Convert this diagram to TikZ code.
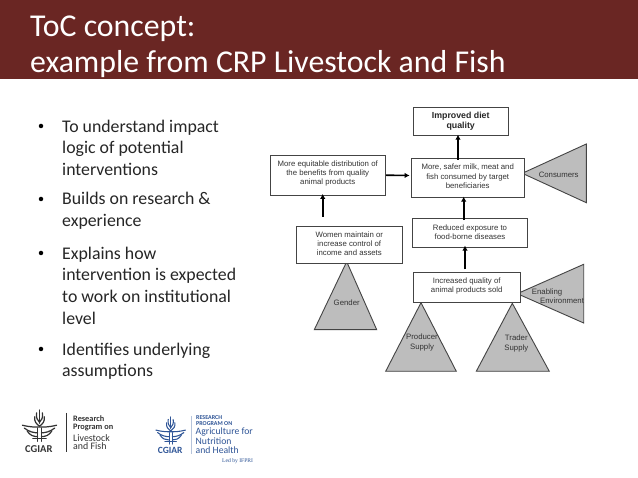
\documentclass[tikz,border=0pt]{standalone}
\usepackage{fontspec}
\setmainfont{Carlito}
\newfontfamily\boxfont{Liberation Sans}
\newfontfamily\ledfont{Liberation Serif}
\definecolor{band}{HTML}{6A2623}
\definecolor{boxline}{HTML}{444444}
\definecolor{boxtext}{HTML}{333333}
\definecolor{tri}{HTML}{BDBDBD}
\definecolor{bluelogo}{HTML}{2F5597}
\definecolor{greylogo}{HTML}{333333}
\usetikzlibrary{arrows.meta,positioning}
\tikzset{
  x=1pt,y=-1pt,
  stepbox/.style={draw=boxline,line width=0.9pt,fill=white,inner sep=0pt,outer sep=0pt,anchor=north west},
  boxlabel/.style={font=\boxfont\fontsize{7.8}{9.1}\selectfont,text=boxtext,align=center,inner sep=0pt},
  trilabel/.style={boxlabel,anchor=center},
  tristyle/.style={draw=boxline,line width=0.9pt,fill=tri,line join=miter},
  link/.style={draw=black,line width=1.6pt,-{Latex[length=5pt,width=5.5pt]}},
  titletext/.style={font=\fontsize{31.8}{35}\selectfont,text=white,anchor=west,inner sep=0pt},
  bullettext/.style={font=\fontsize{17.8}{21.8}\selectfont,text=black!85,align=left,anchor=north west,inner sep=0pt},
  bulletdot/.style={circle,fill=black,inner sep=0pt,minimum size=4.5pt},
  logotxt/.style={anchor=west,inner sep=0pt}
}
\newcommand{\cgiarmark}[4]{% x, y (top), scale, colour
  \begin{scope}[shift={(#1,#2)},scale=#3,draw=#4,line width=#3*1.3pt,line cap=round]
    \draw (0,0) -- (0,14);
    \draw (-3,3) .. controls (-4,8) and (-2,11) .. (0,13);
    \draw (3,3) .. controls (4,8) and (2,11) .. (0,13);
    \draw (-5,7) .. controls (-6,12) and (-3,15) .. (0,17);
    \draw (5,7) .. controls (6,12) and (3,15) .. (0,17);
    \draw (-18,16) .. controls (-10,18) and (-5,18) .. (0,18) .. controls (5,18) and (10,18) .. (18,16);
    \draw (-16,19) .. controls (-11,23) and (-6,24) .. (-2,24);
    \draw (16,19) .. controls (11,23) and (6,24) .. (2,24);
    \draw (-13,22) .. controls (-10,27) and (-6,28) .. (-2,28);
    \draw (13,22) .. controls (10,27) and (6,28) .. (2,28);
    \draw (-2,19) -- (-2,33);
    \draw (2,19) -- (2,33);
    \draw (-7,30) -- (7,30);
  \end{scope}
}
\begin{document}
\begin{tikzpicture}
\useasboundingbox (0,0) rectangle (638,478);
\fill[white] (0,0) rectangle (638,478);
\fill[band] (0,0) rectangle (638,79);
\node[titletext] (title1) at (30,29) {ToC concept:};
\node[titletext] (title2) at (30,64.5) {example from CRP Livestock and Fish};

% bullets
\node[bulletdot] (b1) at (41,126) {};
\node[bullettext] (t1) at (62,119.5) {To understand impact\\logic of potential\\interventions};
\node[bulletdot] (b2) at (41,199) {};
\node[bullettext] (t2) at (62,192) {Builds on research \&\\experience};
\node[bulletdot] (b3) at (41,253) {};
\node[bullettext] (t3) at (62,246.5) {Explains how\\intervention is expected\\to work on institutional\\level};
\node[bulletdot] (b4) at (41,349) {};
\node[bullettext] (t4) at (62,342.5) {Identifies underlying\\assumptions};

% triangles
\filldraw[tristyle] (346.7,261.7) -- (376.7,329.7) -- (314.3,329.7) -- cycle;
\filldraw[tristyle] (421,302.7) -- (456.3,371.3) -- (385.7,371.3) -- cycle;
\filldraw[tristyle] (512.3,303.3) -- (549.3,371.3) -- (476.3,371.3) -- cycle;
\filldraw[tristyle] (522.3,173.3) -- (586.3,144) -- (586.3,202.7) -- cycle;
\filldraw[tristyle] (517.3,293.7) -- (583.7,264.3) -- (583.7,323) -- cycle;

% boxes
\node[stepbox,minimum width=94.7pt,minimum height=28.4pt] (diet) at (413.3,107.3) {};
\node[stepbox,minimum width=115.7pt,minimum height=40pt] (equit) at (270,155.3) {};
\node[stepbox,minimum width=113pt,minimum height=39pt] (safer) at (411.3,158.3) {};
\node[stepbox,minimum width=114.6pt,minimum height=28.6pt] (expo) at (412.7,218.7) {};
\node[stepbox,minimum width=106.6pt,minimum height=30pt] (qual) at (413.7,272.7) {};
\node[stepbox,minimum width=106.7pt,minimum height=37.3pt] (women) at (296,226) {};

% box texts
\node[boxlabel,font=\boxfont\bfseries\fontsize{8.8}{10.7}\selectfont,text=black!85] (ldiet) at (460.7,121.3) {Improved diet\\quality};
\node[boxlabel] (lequit) at (327.7,173.3) {More equitable distribution of\\the benefits from quality\\animal products};
\node[boxlabel] (lsafer) at (467.7,176.3) {More, safer milk, meat and\\fish consumed by target\\beneficiaries};
\node[boxlabel] (lexpo) at (470,232) {Reduced exposure to\\food-borne diseases};
\node[boxlabel] (lqual) at (466.7,286) {Increased quality of\\animal products sold};
\node[boxlabel] (lwomen) at (349.3,243.7) {Women maintain or\\increase control of\\income and assets};

% triangle labels
\node[trilabel] (lgender) at (346.7,303) {Gender};
\node[trilabel] (lprod) at (422,342.5) {Producer\\Supply};
\node[trilabel] (ltrade) at (516.3,343.5) {Trader\\Supply};
\node[trilabel] (lcons) at (558.7,175) {Consumers};
\node[boxlabel,anchor=west] (len1) at (531.7,292) {Enabling};
\node[boxlabel,anchor=west] (len2) at (540,301) {Environment};

% connectors
\coordinate (cA) at (458,0);
\coordinate (eqout) at (386.2,175.2);
\coordinate (safin) at (409.6,175.5);
\coordinate (cC) at (322.7,0);
\coordinate (cD) at (463.7,0);
\coordinate (cE) at (465,0);
\draw[link,shorten <=-1.5pt,shorten >=-1pt] (cA |- safer.north) -- (cA |- diet.south);
\draw[link] (eqout) to (safin);
\draw[link,shorten <=9.3pt,shorten >=-1.4pt] (cC |- women.north) -- (cC |- equit.south);
\draw[link,shorten <=-1.4pt,shorten >=-0.7pt] (cD |- expo.north) -- (cD |- safer.south);
\draw[link,shorten <=3.4pt,shorten >=-1.7pt] (cE |- qual.north) -- (cE |- expo.south);

% logo 1
\cgiarmark{39.5}{410}{0.95}{greylogo}
\node[logotxt,font=\bfseries\fontsize{10.5}{11}\selectfont,text=greylogo] (cg1) at (25,449) {CGIAR};
\draw[greylogo,line width=0.7pt] (66.7,413) -- (66.7,452);
\node[logotxt,font=\bfseries\fontsize{8.3}{9}\selectfont,text=greylogo] (r1) at (73,419) {Research};
\node[logotxt,font=\bfseries\fontsize{8.3}{9}\selectfont,text=greylogo] (r2) at (73,428) {Program on};
\node[logotxt,font=\fontsize{9.9}{10}\selectfont,text=greylogo] (r3) at (73,438) {Livestock};
\node[logotxt,font=\fontsize{9.9}{10}\selectfont,text=greylogo] (r4) at (73,446.5) {and Fish};

% logo 2
\cgiarmark{170.7}{417}{0.82}{bluelogo}
\node[logotxt,font=\bfseries\fontsize{9.5}{10}\selectfont,text=bluelogo] (cg2) at (157.7,450) {CGIAR};
\draw[bluelogo!35,line width=0.5pt] (191,416) -- (191,454);
\node[logotxt,font=\bfseries\fontsize{6}{6}\selectfont,text=bluelogo] (a1) at (196,417.7) {RESEARCH};
\node[logotxt,font=\bfseries\fontsize{6}{6}\selectfont,text=bluelogo] (a2) at (196,423.5) {PROGRAM ON};
\node[logotxt,font=\fontsize{9.7}{10}\selectfont,text=bluelogo] (a3) at (195.5,432) {Agriculture for};
\node[logotxt,font=\fontsize{9.7}{10}\selectfont,text=bluelogo] (a4) at (195.5,441) {Nutrition};
\node[logotxt,font=\fontsize{9.7}{10}\selectfont,text=bluelogo] (a5) at (195.5,449.7) {and Health};
\node[logotxt,font=\ledfont\fontsize{5.6}{6}\selectfont,text=bluelogo] (led) at (222,461) {Led by IFPRI};
\end{tikzpicture}
\end{document}
